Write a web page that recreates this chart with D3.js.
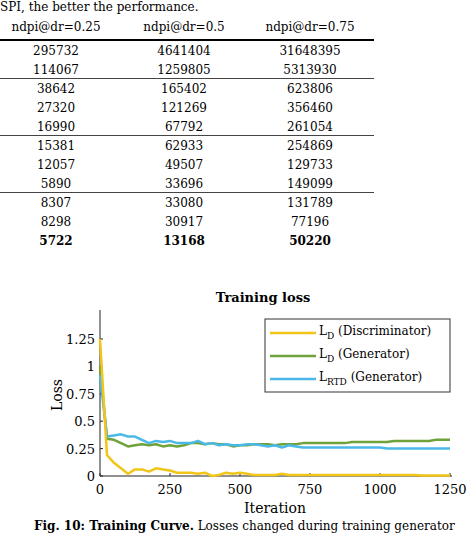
<!DOCTYPE html>
<html>
<head>
<meta charset="utf-8">
<script src="https://cdn.jsdelivr.net/npm/d3@7"></script>
<style>
body { margin: 0; background: #fff; }
</style>
</head>
<body>
<svg id="page" width="474" height="534" font-family="'DejaVu Serif', serif"></svg>
<script>
// table data
var colHeaders = ["ndpi@dr=0.25", "ndpi@dr=0.5", "ndpi@dr=0.75"];
var col25 = [295732, 114067, 38642, 27320, 16990, 15381, 12057, 5890, 8307, 8298, 5722];
var col50 = [4641404, 1259805, 165402, 121269, 67792, 62933, 49507, 33696, 33080, 30917, 13168];
var col75 = [31648395, 5313930, 623806, 356460, 261054, 254869, 129733, 149099, 131789, 77196, 50220];
var groupBreaks = [2, 5, 8];

// loss curves, one sample every 25 iterations
var iterations = d3.range(0, 1251, 25);
var lossDisc = [1.25,0.19,0.12,0.07,0.02,0.06,0.06,0.04,0.07,0.06,0.05,0.03,0.03,0.03,0.02,0.03,0.00,0.01,0.03,0.02,
  0.03,0.02,0.01,0.01,0.01,0.01,0.02,0.01,0.01,0.01,0.01,0.01,0.01,0.01,0.01,0.01,0.01,0.01,0.01,0.01,
  0.01,0.01,0.01,0.01,0.01,0.01,0.005,0.005,0.005,0.005,0.005];
var lossGen = [1.0,0.34,0.33,0.30,0.27,0.28,0.29,0.28,0.29,0.27,0.28,0.27,0.28,0.30,0.30,0.29,0.30,0.29,0.29,0.27,
  0.28,0.28,0.29,0.29,0.29,0.28,0.29,0.29,0.29,0.30,0.30,0.30,0.30,0.30,0.30,0.30,0.31,0.31,0.31,0.31,
  0.31,0.31,0.32,0.32,0.32,0.32,0.32,0.32,0.33,0.33,0.33];
var lossRtd = [0.92,0.36,0.37,0.38,0.36,0.36,0.33,0.30,0.32,0.31,0.32,0.30,0.30,0.30,0.32,0.29,0.30,0.28,0.29,0.28,
  0.28,0.29,0.29,0.28,0.27,0.28,0.26,0.28,0.27,0.26,0.26,0.26,0.26,0.26,0.26,0.26,0.26,0.26,0.26,0.26,
  0.26,0.25,0.25,0.25,0.25,0.25,0.25,0.25,0.25,0.25,0.25];
var xTicks = [0, 250, 500, 750, 1000, 1250];
var yTicks = [0, 0.25, 0.5, 0.75, 1, 1.25];
var legendLabels = [["D", " (Discriminator)"], ["D", " (Generator)"], ["RTD", " (Generator)"]];
var lineColors = ["#f2c519", "#6fa23a", "#4bb9e8"];

var svg = d3.select("#page");

// ---- table ----
svg.append("text").attr("x", 0).attr("y", 11).attr("font-size", 12)
  .text("SPI, the better the performance.");
var colX = [56, 184, 310];
var rowY = function (i) { return 55 + i * 19; };
colHeaders.forEach(function (h, c) {
  svg.append("text").attr("x", colX[c]).attr("y", 31).attr("font-size", 12)
    .attr("text-anchor", "middle").text(h);
});
svg.append("line").attr("x1", 0).attr("x2", 374).attr("y1", 40).attr("y2", 40)
  .attr("stroke", "#000").attr("stroke-width", 2);
[col25, col50, col75].forEach(function (col, c) {
  col.forEach(function (v, i) {
    svg.append("text").attr("x", colX[c]).attr("y", rowY(i)).attr("font-size", 12)
      .attr("text-anchor", "middle")
      .attr("font-weight", i == col.length - 1 ? "bold" : "normal")
      .text(v);
  });
});
groupBreaks.forEach(function (b) {
  var y = rowY(b) - 14.5;
  svg.append("line").attr("x1", 0).attr("x2", 374).attr("y1", y).attr("y2", y)
    .attr("stroke", "#444").attr("stroke-width", 1);
});

// ---- chart ----
var x = d3.scaleLinear().domain([0, 1250]).range([100, 450]);
var y = d3.scaleLinear().domain([0, 1.25]).range([476, 339]);
var g = svg.append("g");

g.append("line").attr("x1", 100).attr("x2", 100).attr("y1", 310).attr("y2", 476).attr("stroke", "#222");
g.append("line").attr("x1", 100).attr("x2", 452).attr("y1", 476).attr("y2", 476).attr("stroke", "#222");
yTicks.forEach(function (t) {
  g.append("line").attr("x1", 100).attr("x2", 103).attr("y1", y(t)).attr("y2", y(t)).attr("stroke", "#222");
  g.append("text").attr("x", 95).attr("y", y(t) + 5).attr("text-anchor", "end")
    .attr("font-size", 13).text(t);
});
xTicks.forEach(function (t) {
  g.append("line").attr("x1", x(t)).attr("x2", x(t)).attr("y1", 476).attr("y2", 473).attr("stroke", "#222");
  g.append("text").attr("x", x(t)).attr("y", 494).attr("text-anchor", "middle")
    .attr("font-size", 13).text(t);
});
g.append("text").attr("x", 275).attr("y", 513).attr("text-anchor", "middle").attr("font-size", 14).text("Iteration");
g.append("text").attr("transform", "translate(62,395) rotate(-90)").attr("text-anchor", "middle")
  .attr("font-size", 14).text("Loss");
g.append("text").attr("x", 263).attr("y", 302).attr("text-anchor", "middle").attr("font-size", 13)
  .attr("font-weight", "bold").text("Training loss");

var line = d3.line().x(function (d, i) { return x(iterations[i]); }).y(function (d) { return y(d); });
[lossGen, lossRtd, lossDisc].forEach(function (s) {
  var idx = s === lossDisc ? 0 : (s === lossGen ? 1 : 2);
  g.append("path").attr("d", line(s)).attr("fill", "none")
    .attr("stroke", lineColors[idx]).attr("stroke-width", 2.5).attr("stroke-linejoin", "round");
});

// legend
g.append("rect").attr("x", 265).attr("y", 319).attr("width", 185).attr("height", 73)
  .attr("fill", "#fff").attr("stroke", "#333");
legendLabels.forEach(function (lab, i) {
  var ly = 333 + i * 23;
  g.append("line").attr("x1", 270).attr("x2", 316).attr("y1", ly).attr("y2", ly)
    .attr("stroke", lineColors[i]).attr("stroke-width", 2.5);
  var t = g.append("text").attr("x", 319).attr("y", ly + 2).attr("font-size", 12);
  t.append("tspan").text("L");
  t.append("tspan").attr("dy", 4).attr("font-size", 9).text(lab[0]);
  t.append("tspan").attr("dy", -4).text(lab[1]);
});

// caption
var cap = svg.append("text").attr("x", 34).attr("y", 530).attr("font-size", 12);
cap.append("tspan").attr("font-weight", "bold").text("Fig. 10: Training Curve.");
cap.append("tspan").text(" Losses changed during training generator");
</script>
</body>
</html>
